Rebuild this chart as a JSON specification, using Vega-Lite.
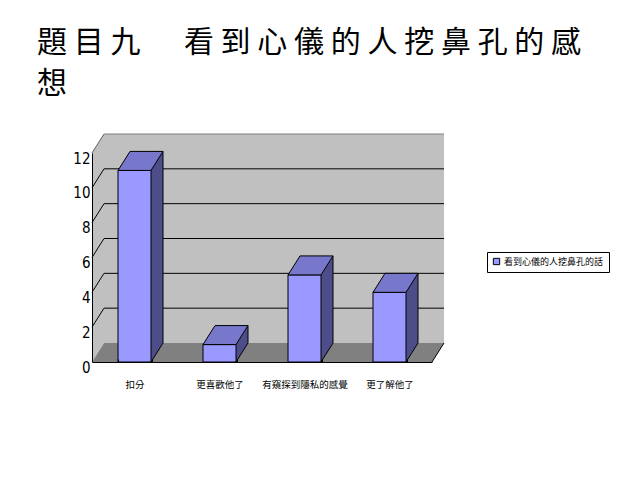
{
  "$schema": "https://vega.github.io/schema/vega-lite/v6.json",
  "autosize": "none",
  "width": 340,
  "height": 209,
  "padding": {"left": 92, "top": 153, "right": 206, "bottom": 116},
  "background": "white",
  "config": {"view": {"stroke": null}, "axisY": {"labelOverlap": false}},
  "title": {
    "text": ["題 目 九 　 看 到 心 儀 的 人 挖 鼻 孔 的 感", "想"],
    "font": "Noto Sans CJK TC",
    "fontSize": 30,
    "fontWeight": "normal",
    "color": "black",
    "anchor": "start",
    "frame": "group",
    "lineHeight": 41,
    "dx": -55,
    "offset": 35
  },
  "datasets": {
    "bars": [
      {"cat": "扣分", "value": 11},
      {"cat": "更喜歡他了", "value": 1},
      {"cat": "有窺探到隱私的感覺", "value": 5},
      {"cat": "更了解他了", "value": 4}
    ],
    "grid": [{"v": 2}, {"v": 4}, {"v": 6}, {"v": 8}, {"v": 10}],
    "top": [{"v": 12}]
  },
  "layer": [
    {
      "data": {"name": "top"},
      "mark": {"type": "rect", "fill": "#C0C0C0", "xOffset": 12, "x2Offset": 12, "yOffset": -19, "y2Offset": -19},
      "encoding": {
        "x": {"value": 0},
        "x2": {"value": "width"},
        "y": {"field": "v", "type": "quantitative", "scale": {"domain": [0, 12], "nice": false},
          "axis": {
            "title": null, "values": [0, 2, 4, 6, 8, 10, 12], "tickCount": 7, "grid": false, "ticks": false,
            "domainColor": "black", "domainWidth": 1, "labelOverlap": false,
            "labelFont": "Liberation Sans Narrow, DejaVu Sans Condensed, Liberation Sans", "labelFontSize": 15,
            "labelColor": "black", "labelPadding": 2, "labelOffset": 5, "zindex": 1
          }
        },
        "y2": {"datum": 0}
      }
    },
    {
      "data": {"name": "top"},
      "mark": {"type": "point", "shape": "M0,0 L0,-209 L12,-228 L12,-19 Z", "size": 4, "filled": true, "fill": "#C0C0C0", "opacity": 1, "strokeWidth": 0},
      "encoding": {
        "x": {"value": 0},
        "y": {"datum": 0}
      }
    },
    {
      "data": {"name": "top"},
      "mark": {"type": "point", "shape": "M0,0 L340,0 L352,-19 L12,-19 Z", "size": 4, "filled": true, "fill": "#808080", "opacity": 1, "strokeWidth": 0},
      "encoding": {
        "x": {"value": 0},
        "y": {"datum": 0}
      }
    },
    {
      "data": {"name": "grid"},
      "mark": {"type": "rule", "color": "black", "strokeWidth": 1, "xOffset": 12, "x2Offset": 12, "yOffset": -19},
      "encoding": {
        "x": {"value": 0},
        "x2": {"value": "width"},
        "y": {"field": "v", "type": "quantitative"}
      }
    },
    {
      "data": {"name": "top"},
      "mark": {"type": "rule", "color": "#808080", "strokeWidth": 1, "xOffset": 12, "x2Offset": 12, "yOffset": -19},
      "encoding": {
        "x": {"value": 0},
        "x2": {"value": "width"},
        "y": {"field": "v", "type": "quantitative"}
      }
    },
    {
      "data": {"name": "grid"},
      "mark": {"type": "rule", "color": "black", "strokeWidth": 1, "x2Offset": 12, "y2Offset": -19},
      "encoding": {
        "x": {"value": 0},
        "x2": {"value": 0},
        "y": {"field": "v", "type": "quantitative"},
        "y2": {"field": "v"}
      }
    },
    {
      "data": {"name": "top"},
      "mark": {"type": "rule", "color": "#606060", "strokeWidth": 1, "x2Offset": 12, "y2Offset": -19},
      "encoding": {
        "x": {"value": 0},
        "x2": {"value": 0},
        "y": {"field": "v", "type": "quantitative"},
        "y2": {"field": "v"}
      }
    },
    {
      "data": {"name": "top"},
      "mark": {"type": "rule", "color": "black", "strokeWidth": 1, "x2Offset": 12, "y2Offset": -19},
      "encoding": {
        "x": {"value": "width"},
        "x2": {"value": "width"},
        "y": {"datum": 0},
        "y2": {"datum": 0}
      }
    },
    {
      "data": {"name": "bars"},
      "mark": {"type": "bar", "width": 12, "xOffset": 22.5, "yOffset": -19, "fill": "#4D4D8A", "strokeWidth": 0},
      "encoding": {
        "x": {"field": "cat", "type": "nominal", "sort": null,
          "scale": {"paddingInner": 0.6, "paddingOuter": 0.3},
          "axis": {
            "title": null, "labelAngle": 0, "labelFont": "Noto Sans CJK TC", "labelFontSize": 9.5,
            "labelColor": "black", "domainColor": "black", "domainWidth": 1,
            "tickBand": "extent", "tickSize": -3, "tickColor": "black", "labelPadding": 20,
            "labelOverlap": false, "zindex": 1
          }
        },
        "y": {"field": "value", "type": "quantitative"},
        "y2": {"datum": 0}
      }
    },
    {
      "data": {"name": "bars"},
      "mark": {"type": "point", "shape": "M16.5,0 L28.5,-19 L28.5,0 Z", "size": 4, "filled": true, "fill": "#808080", "opacity": 1, "strokeWidth": 0},
      "encoding": {
        "x": {"field": "cat", "type": "nominal", "sort": null},
        "y": {"datum": 0}
      }
    },
    {
      "data": {"name": "bars"},
      "mark": {"type": "point", "shape": "M16.5,0 L28.5,-19", "size": 4, "filled": false, "stroke": "black", "strokeWidth": 1, "opacity": 1},
      "encoding": {
        "x": {"field": "cat", "type": "nominal", "sort": null},
        "y": {"datum": 0}
      }
    },
    {
      "data": {"name": "bars"},
      "mark": {"type": "rule", "xOffset": 28.5, "yOffset": -19, "y2Offset": -19, "color": "black", "strokeWidth": 1},
      "encoding": {
        "x": {"field": "cat", "type": "nominal", "sort": null},
        "y": {"field": "value", "type": "quantitative"},
        "y2": {"datum": 0}
      }
    },
    {
      "data": {"name": "bars"},
      "mark": {"type": "bar", "width": 33, "stroke": "black", "strokeWidth": 1},
      "encoding": {
        "x": {"field": "cat", "type": "nominal", "sort": null},
        "y": {"field": "value", "type": "quantitative"},
        "y2": {"datum": 0},
        "color": {
          "datum": "看到心儀的人挖鼻孔的話",
          "scale": {"range": ["#9999FF"]},
          "legend": {
            "title": null, "orient": "none", "legendX": 395, "legendY": 99,
            "strokeColor": "black", "fillColor": "white", "padding": 5,
            "symbolType": "square", "symbolSize": 40, "symbolStrokeColor": "black", "symbolStrokeWidth": 1,
            "labelFont": "Noto Sans CJK TC", "labelFontSize": 9, "labelColor": "black", "labelOffset": 3
          }
        }
      }
    },
    {
      "data": {"name": "bars"},
      "mark": {"type": "point", "shape": "M-16.5,0 L16.5,0 L28.5,-19 L-4.5,-19 Z", "size": 4, "filled": true, "fill": "#7777CC", "stroke": "black", "strokeWidth": 1, "opacity": 1},
      "encoding": {
        "x": {"field": "cat", "type": "nominal", "sort": null},
        "y": {"field": "value", "type": "quantitative"}
      }
    }
  ]
}
